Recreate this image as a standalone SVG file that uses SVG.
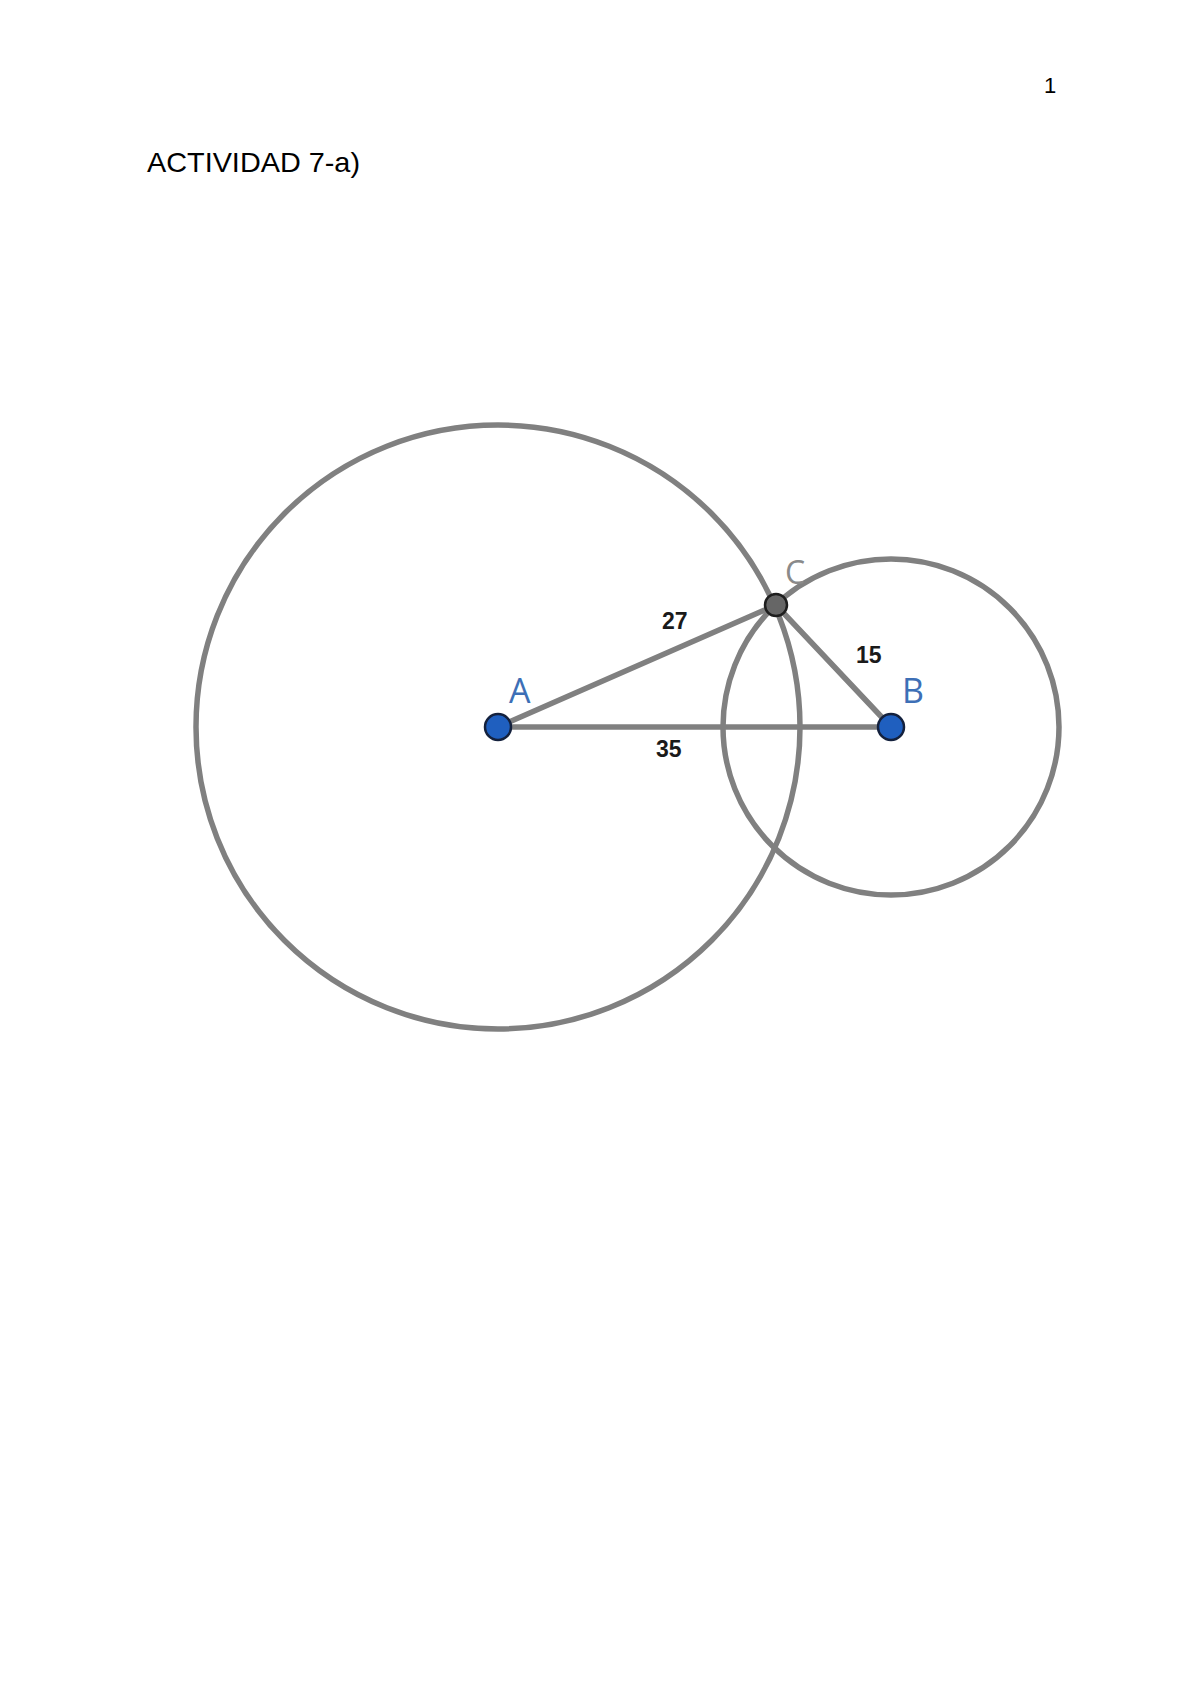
<svg xmlns="http://www.w3.org/2000/svg" width="1200" height="1696" viewBox="0 0 1200 1696">
<style>
.circ{fill:none;stroke:#808080;stroke-width:5.5}
.seg{stroke:#808080;stroke-width:5.5;stroke-linecap:round}
.pt{fill:#1f5fbf;stroke:#14213d;stroke-width:2.5}
.ptc{fill:#666666;stroke:#1e1e1e;stroke-width:2.5}
.lbl{font-family:"Open Sans","DejaVu Sans",sans-serif;font-size:34px;fill:#3d6fb6}
.num{font-family:"Liberation Sans",Arial,sans-serif;font-weight:bold;font-size:23px;fill:#1a1a1a}
.doc{font-family:"Liberation Sans",Arial,sans-serif;fill:#000}
</style>
<rect width="1200" height="1696" fill="#fff"/>
<text class="doc" x="1044" y="93" font-size="22">1</text>
<text class="doc" x="147" y="172" font-size="28" textLength="213" lengthAdjust="spacingAndGlyphs">ACTIVIDAD 7-a)</text>
<g id="circles">
<circle id="circleA" class="circ" cx="498" cy="727" r="302"/>
<circle id="circleB" class="circ" cx="891" cy="727" r="168"/>
</g>
<g id="connectors">
<line class="seg" x1="498" y1="727" x2="891" y2="727"/>
<line class="seg" x1="498" y1="727" x2="776" y2="605"/>
<line class="seg" x1="776" y1="605" x2="891" y2="727"/>
</g>
<g id="labels">
<text class="num" x="662" y="629">27</text>
<text class="num" x="856" y="663">15</text>
<text class="num" x="656" y="757">35</text>
</g>
<g id="nodeA">
<circle class="pt" cx="498" cy="727" r="13"/>
<text class="lbl" x="509" y="703">A</text>
</g>
<g id="nodeB">
<circle class="pt" cx="891" cy="727" r="13"/>
<text class="lbl" x="902" y="703">B</text>
</g>
<g id="nodeC">
<circle class="ptc" cx="776" cy="605" r="11"/>
<text class="lbl" x="785" y="584" style="fill:#8a8a8a;font-size:32px">C</text>
</g>
</svg>
